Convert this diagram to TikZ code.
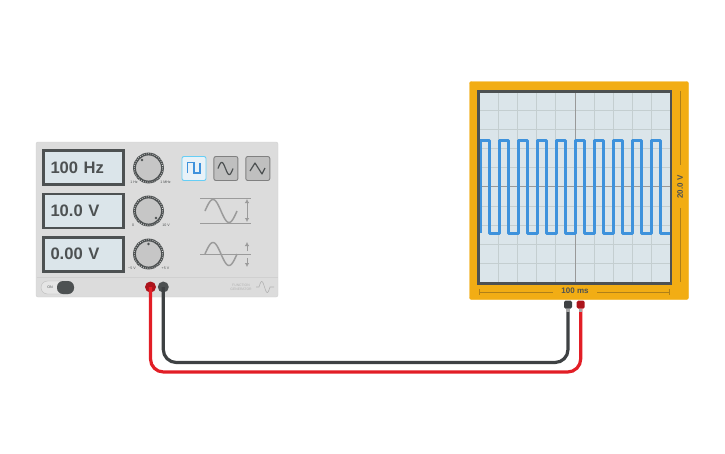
\documentclass[tikz,border=0pt]{standalone}
\usepackage{fontspec}
\setmainfont{Liberation Sans}
\usetikzlibrary{arrows.meta, positioning}
\definecolor{panelgray}{RGB}{220, 220, 220}
\definecolor{paneledge}{RGB}{208, 208, 208}
\definecolor{lcdblue}{RGB}{219, 229, 234}
\definecolor{lcdedge}{RGB}{77, 81, 82}
\definecolor{scopeorange}{RGB}{242, 173, 20}
\definecolor{scaleorange}{RGB}{176, 128, 24}
\definecolor{gridgray}{RGB}{196, 206, 208}
\definecolor{wiregray}{RGB}{62, 65, 67}
\definecolor{wirered}{RGB}{226, 30, 38}
\definecolor{jackred}{RGB}{172, 20, 28}
\definecolor{traceblue}{RGB}{62, 146, 220}
\definecolor{icongray}{RGB}{155, 155, 155}
\definecolor{btnlight}{RGB}{232, 242, 248}

\begin{document}
\begin{tikzpicture}[
    x=1pt, y=-1pt,
    font=\bfseries,
    panel/.style={
        draw=paneledge,
        fill=panelgray,
        rounded corners=2pt,
        inner sep=0pt
    },
    lcd/.style={
        draw=lcdedge,
        line width=2.6pt,
        fill=lcdblue,
        minimum width=80.4pt,
        minimum height=34pt,
        text width=66pt,
        align=left,
        inner sep=0pt,
        text=lcdedge,
        font=\bfseries\fontsize{16.6}{16.6}\selectfont
    },
    knob/.style={
        circle,
        fill=panelgray!90!black,
        draw=lcdedge,
        line width=2.8pt,
        minimum size=28pt,
        inner sep=0pt
    },
    knobticks/.style={
        circle,
        draw=panelgray,
        line width=0.9pt,
        dash pattern=on 0.6pt off 1.6pt,
        minimum size=28.5pt,
        inner sep=0pt
    },
    knobdot/.style={circle, fill=lcdedge, minimum size=2.8pt, inner sep=0pt},
    ticklabel/.style={text=lcdedge, inner sep=0pt, font=\fontsize{3.6}{4}\selectfont},
    wavebtn/.style={
        draw=black!50,
        line width=0.9pt,
        fill=black!25,
        rounded corners=2pt,
        minimum width=24pt,
        minimum height=24pt,
        inner sep=0pt
    },
    activebtn/.style={wavebtn, draw=cyan!60!white, fill=btnlight},
    iconline/.style={draw=icongray, line width=0.8pt},
    iconwave/.style={draw=icongray, line width=1.5pt},
    iconarrow/.style={draw=icongray, line width=1pt, {Latex[length=4pt,width=4.5pt]}-{Latex[length=4pt,width=4.5pt]}},
    iconhalf/.style={draw=icongray, line width=1pt, -{Latex[length=4pt,width=4.5pt]}},
    jack/.style={circle, minimum size=11pt, inner sep=0pt},
    probe/.style={minimum width=8pt, minimum height=8pt, inner sep=0pt, rounded corners=1.5pt},
    wire/.style={line width=3.2pt, rounded corners=13pt},
    gridline/.style={draw=gridgray, line width=0.7pt},
    axisline/.style={draw=black!40, line width=0.8pt},
    scaleline/.style={draw=scaleorange, line width=0.6pt},
    scalelabel/.style={text=lcdedge, inner sep=0pt, font=\bfseries\fontsize{8}{8}\selectfont}
]

    \useasboundingbox (0,0) rectangle (725,453);

    % Function generator
    \node[panel, minimum width=242pt, minimum height=155pt] (generator) at (157,219.5) {};
    \draw[paneledge] (36.5,277) -- (277.5,277);

    \node[lcd, anchor=west] (freq) at (42,167.5) {100 Hz};
    \node[lcd, below=7pt of freq] (ampl) {10.0 V};
    \node[lcd, below=6.5pt of ampl] (offs) {0.00 V};

    \foreach \name/\ypos in {knobf/168, knoba/211, knobo/254} {
        \node[knob] (\name) at (148.5,\ypos) {};
        \node[knobticks] at (148.5,\ypos) {};
    }
    \node[knobdot] (dotf) at (142,160) {};
    \node[knobdot] (dota) at (156,218) {};
    \node[knobdot] (doto) at (148.5,244) {};

    \node[ticklabel] (lowf) at (134,182) {1 Hz};
    \node[ticklabel] (highf) at (165.5,182) {1 MHz};
    \node[ticklabel] (lowa) at (133,225) {0};
    \node[ticklabel] (higha) at (166,225) {10 V};
    \node[ticklabel] (lowo) at (132,268) {−5 V};
    \node[ticklabel] (higho) at (165.5,268) {+5 V};

    % Wave buttons
    \node[activebtn] (square) at (194,168.5) {};
    \node[wavebtn, right=7pt of square] (sine) {};
    \node[wavebtn, right=7pt of sine] (triangle) {};
    \draw[traceblue, line width=1.3pt] (187.5,173) -- (187.5,162.5) -- (194,162.5) -- (194,173) -- (200,173) -- (200,162.5);
    \draw[lcdedge, line width=1.2pt] plot[domain=0:360, samples=60] ({218+\x/360*15},{168.5-6*sin(\x)});
    \draw[lcdedge, line width=1.2pt, line join=round] (250,171) -- (255,163) -- (262,174) -- (265,168);

    % Amplitude and offset icons
    \draw[iconline] (200,198) -- (251,198);
    \draw[iconline] (200,223) -- (251,223);
    \draw[iconwave] plot[domain=0:360, samples=80] ({205+\x/360*32},{211-11.5*sin(\x)});
    \draw[iconarrow] (247,199) -- (247,222);
    \draw[iconline] (200,254) -- (251,254);
    \draw[iconwave] plot[domain=0:360, samples=80] ({205+\x/360*32},{254-11.5*sin(\x)});
    \draw[iconhalf] (247,251) -- (247,242);
    \draw[iconhalf] (247,258) -- (247,267);

    % Power switch
    \node[draw=paneledge!90!black, fill=black!10, rounded corners=6.5pt, minimum width=33pt, minimum height=13pt, inner sep=0pt] (switch) at (57.5,287.5) {};
    \node[text=lcdedge, inner sep=0pt, font=\fontsize{3.6}{4}\selectfont] (switchon) at (50,287.5) {ON};
    \node[fill=lcdedge, rounded corners=6pt, minimum width=17pt, minimum height=13pt, inner sep=0pt] (switchknob) at (65.5,287.5) {};

    % Maker mark
    \node[text=black!30, inner sep=0pt, align=center, font=\fontsize{3.4}{4}\selectfont] (maker) at (241,287) {FUNCTION\\GENERATOR};
    \draw[black!30, line width=0.6pt] (256,287) -- (259,287) plot[domain=0:360, samples=40] ({259+\x/360*11},{287-5.5*sin(\x)}) -- (274,287);

    % Oscilloscope
    \node[panel, draw=scopeorange, fill=scopeorange, minimum width=219pt, minimum height=218pt] (scope) at (579,190.5) {};
    \node[fill=lcdblue, minimum width=192.5pt, minimum height=192pt, inner sep=0pt] (screen) at (574.8,187.5) {};

    \foreach \xpos in {498,517,536,555,594,613,632,651}
        \draw[gridline] (\xpos,91) -- (\xpos,283);
    \foreach \ypos in {110,129,148,167,206,225,244,263}
        \draw[gridline] (479,\ypos) -- (671,\ypos);
    \draw[axisline] (575,91) -- (575,283);
    \draw[axisline] (479,186.5) -- (671,186.5);

    \draw[traceblue, line width=3pt, line join=round] (480,233) -- (480,140)
        \foreach \i in {0,...,9} { -- ++(9.5,0) -- ++(0,93) -- ++(9.5,0) \ifnum\i<9 -- ++(0,-93)\fi };

    \node[draw=lcdedge, line width=2.6pt, minimum width=192.5pt, minimum height=192pt, inner sep=0pt] (screenframe) at (screen) {};

    \node[scalelabel] (timelabel) at (575,291) {100 ms};
    \coordinate (timeleft) at (479,292);
    \coordinate (timeright) at (670,292);
    \draw[scaleline, |-] (timeleft) -- (553,292);
    \draw[scaleline, -|] (597,292) -- (timeright);

    \node[scalelabel, rotate=90] (voltlabel) at (680,187) {20.0 V};
    \draw[scaleline] (680.5,91) -- (680.5,165);
    \draw[scaleline] (680.5,208) -- (680.5,282);

    % Terminals and probes
    \node[jack, fill=jackred] (redjack) at (150.5,287) {};
    \node[jack, fill=lcdedge] (blackjack) at (163.3,287) {};
    \node[probe, fill=wiregray, anchor=north] (blackprobe) at (568,300.5) {};
    \node[probe, fill=jackred, anchor=north] (redprobe) at (580.7,300.5) {};
    \coordinate (blacklow) at (360,362.5);
    \coordinate (redlow) at (360,372);

    % Wires
    \draw[wire, wiregray] (blackjack.center) |- (blacklow) -| (blackprobe.south);
    \draw[wire, wirered] (redjack.center) |- (redlow) -| (redprobe.south);
    \fill[black!35] (blackprobe.south west) ++(2.2,0) rectangle ++(3.6,3);
    \fill[black!35] (redprobe.south west) ++(2.2,0) rectangle ++(3.6,3);

\end{tikzpicture}
\end{document}
